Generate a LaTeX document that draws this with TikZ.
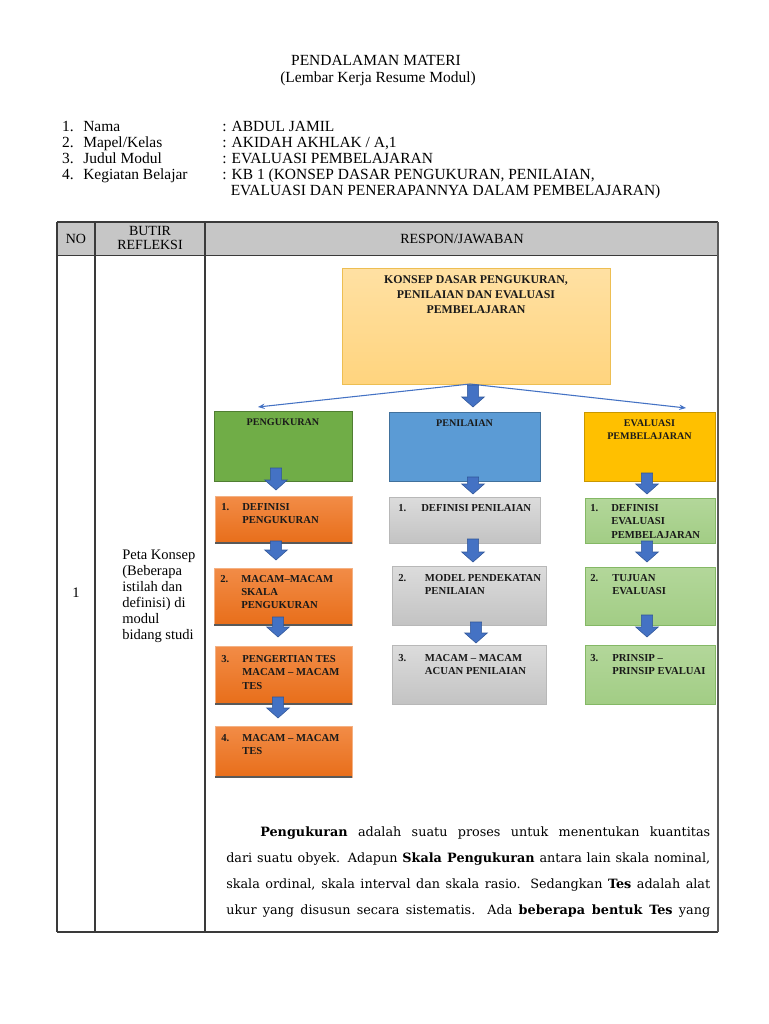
\documentclass[tikz,border=0pt]{standalone}
\usepackage{fontspec}
\setmainfont{Liberation Serif}
\newfontfamily\parafont{DejaVu Serif}
\usetikzlibrary{calc,arrows.meta}
\definecolor{arrblue}{HTML}{4472C4}
\definecolor{arrdark}{HTML}{2F5597}
\definecolor{hdrgray}{HTML}{C6C6C6}
\definecolor{tline}{HTML}{3A3A3A}
\definecolor{topfill}{HTML}{FFD98C}
\definecolor{topfillb}{HTML}{FFD47E}
\definecolor{topdraw}{HTML}{EDBE52}
\definecolor{pgreen}{HTML}{70AD47}
\definecolor{pgreend}{HTML}{507E32}
\definecolor{pblue}{HTML}{5B9BD5}
\definecolor{pblued}{HTML}{41719C}
\definecolor{pgold}{HTML}{FFC000}
\definecolor{pgoldd}{HTML}{C99700}
\definecolor{otop}{HTML}{F28C47}
\definecolor{obot}{HTML}{E86E1A}
\definecolor{odraw}{HTML}{F4B183}
\definecolor{gtop}{HTML}{DCDCDC}
\definecolor{gbot}{HTML}{C3C3C3}
\definecolor{gdraw}{HTML}{B8B8B8}
\definecolor{etop}{HTML}{B3D79A}
\definecolor{ebot}{HTML}{A2CD85}
\definecolor{edraw}{HTML}{84B865}
\definecolor{btext}{HTML}{1A1A1A}
\tikzset{
  sz/.style 2 args={minimum width=#1*0.75pt, minimum height=#2*0.75pt},
  box/.style={anchor=north west, inner sep=0pt, outer sep=0pt},
  hdr/.style={inner sep=0pt, font=\fontsize{11.6}{12}\selectfont},
  thd/.style={inner sep=0pt, font=\fontsize{10.5}{11}\selectfont},
  itext/.style={anchor=base west, inner sep=0pt, text=btext, font=\bfseries\fontsize{8}{10}\selectfont},
  htext/.style={anchor=base, inner sep=0pt, text=btext, font=\bfseries\fontsize{7.6}{9.75}\selectfont},
  para/.style={anchor=base west, inner sep=0pt, font=\parafont\fontsize{9.6}{19.5}\selectfont},
  obox/.style={box, top color=otop, bottom color=obot, draw=odraw, line width=0.4pt},
  gbox/.style={box, top color=gtop, bottom color=gbot, draw=gdraw, line width=0.5pt},
  ebox/.style={box, top color=etop, bottom color=ebot, draw=edraw, line width=0.6pt},
  barrow/.style={fill=arrblue, draw=arrdark, line width=0.4pt},
  thin arrow/.style={draw=arrblue, line width=0.8pt, -{Stealth[length=5pt,width=4pt]}}
}
\newcommand\barr[5]{%
  \path[barrow] let \p1=($(#1.south)+(#3,-#4)$), \p2=($(#2.north)+(#3,-#5)$) in
  (\x1-4.2pt,\y1) -- (\x1+4.2pt,\y1) -- (\x1+4.2pt,\y2+7.5pt) -- (\x1+8.5pt,\y2+7.5pt)
  -- (\x1,\y2) -- (\x1-8.5pt,\y2+7.5pt) -- (\x1-4.2pt,\y2+7.5pt) -- cycle;}
\newcommand\itm[3]{\begin{tabular}[t]{@{}p{#1}@{}l@{}}#2&#3\end{tabular}}
\begin{document}
\begin{tikzpicture}[x=0.75pt,y=-0.75pt]
\useasboundingbox (0,0) rectangle (768,1024);
\fill[white] (0,0) rectangle (768,1024);

% Title
\node[hdr, anchor=base] (t1) at (376,66) {PENDALAMAN MATERI};
\node[hdr, anchor=base] (t2) at (378,82.5) {(Lembar Kerja Resume Modul)};

% List
\foreach \n/\lab/\val/\yy in {1/Nama/{: ABDUL JAMIL}/131, 2/Mapel\slash Kelas/{: AKIDAH AKHLAK / A,1}/147, 3/Judul Modul/{: EVALUASI PEMBELAJARAN}/163, 4/Kegiatan Belajar/{: KB 1 (KONSEP DASAR PENGUKURAN, PENILAIAN,}/179}{
  \node[hdr, anchor=base east] (n\n) at (74,\yy) {\n.};
  \node[hdr, anchor=base west] (l\n) at (83,\yy) {\lab};
  \node[hdr, anchor=base west] (v\n) at (222,\yy) {\val};
}
\node[hdr, anchor=base west] (v5) at (230.5,195) {EVALUASI DAN PENERAPANNYA DALAM PEMBELAJARAN)};

% Table
\fill[hdrgray] (57,222) rectangle (718,255.5);
\draw[tline, line width=0.9pt] (57,222) -- (718,222);
\draw[tline, line width=0.9pt] (57,255.5) -- (718,255.5);
\draw[tline, line width=0.9pt] (57,932) -- (718,932);
\draw[tline, line width=1.1pt] (57,222) -- (57,932);
\draw[tline, line width=0.9pt] (95,222) -- (95,932);
\draw[tline, line width=0.9pt] (205,222) -- (205,932);
\draw[black!65, line width=1.5pt] (718,222) -- (718,932);

\node[thd, anchor=base] (hno) at (76,243) {NO};
\node[thd, anchor=base] (hb1) at (150,235) {BUTIR};
\node[thd, anchor=base] (hb2) at (150,249) {REFLEKSI};
\node[thd, anchor=base] (hrs) at (462,243) {RESPON/JAWABAN};

\node[inner sep=0pt, anchor=base, font=\fontsize{10.9}{12}\selectfont] (no1) at (76,597.5) {1};
\node[inner sep=0pt, anchor=base west, font=\fontsize{10.9}{12}\selectfont] (ref) at (122,559.5)
  {\begin{tabular}[t]{@{}l@{}}Peta Konsep\\(Beberapa\\istilah dan\\definisi) di\\modul\\bidang studi\end{tabular}};

% Top box
\node[box, sz={268}{116}, top color=topfill!80!white, bottom color=topfillb, draw=topdraw, line width=0.6pt] (top) at (342,268) {};
\node[anchor=base, inner sep=0pt, text=btext, font=\bfseries\fontsize{8.9}{11.25}\selectfont] (toptxt) at ($(top.north)+(0,15)$)
  {\begin{tabular}[t]{@{}c@{}}KONSEP DASAR PENGUKURAN,\\PENILAIAN DAN EVALUASI\\PEMBELAJARAN\end{tabular}};

% Category boxes
\node[box, sz={138}{70}, fill=pgreen, draw=pgreend, line width=0.6pt] (peng) at (214,411) {};
\node[htext] (pengt) at ($(peng.north)+(0,14.5)$) {PENGUKURAN};
\node[box, sz={151}{69}, fill=pblue, draw=pblued, line width=0.6pt] (pen) at (389,412) {};
\node[htext] (pent) at ($(pen.north)+(0,14.5)$) {PENILAIAN};
\node[box, sz={131}{69}, fill=pgold, draw=pgoldd, line width=0.6pt] (eval) at (584,412) {};
\node[htext] (evalt) at ($(eval.north)+(0,14.5)$) {\begin{tabular}[t]{@{}c@{}}EVALUASI\\PEMBELAJARAN\end{tabular}};

% thin arrows
\coordinate (lft) at ($(peng.north west)+(44,-4)$);
\coordinate (rgt) at ($(eval.north west)+(102,-4)$);
\draw[thin arrow] ($(top.south)+(-6,0)$) -- (lft);
\draw[thin arrow] ($(top.south)+(-6,0)$) -- (rgt);

% Column 1
\node[obox, sz={137}{47}] (o1) at (215,496) {};
\node[obox, sz={138}{57}] (o2) at (214,568) {};
\node[obox, sz={137}{58}] (o3) at (215,646) {};
\node[obox, sz={137}{51}] (o4) at (215,726) {};
\foreach \b in {o1,o2,o3,o4}{\draw[black!65, line width=1pt] (\b.south west) -- (\b.south east);}
\node[itext] (o1t) at ($(o1.north west)+(6,14.5)$) {\itm{15.75pt}{1.}{DEFINISI\\&PENGUKURAN}};
\node[itext] (o2t) at ($(o2.north west)+(6,14)$) {\itm{15.75pt}{2.}{MACAM--MACAM\\&SKALA\\&PENGUKURAN}};
\node[itext] (o3t) at ($(o3.north west)+(6,16.5)$) {\itm{15.75pt}{3.}{PENGERTIAN TES\\&MACAM -- MACAM\\&TES}};
\node[itext] (o4t) at ($(o4.north west)+(6,15.5)$) {\itm{15.75pt}{4.}{MACAM -- MACAM\\&TES}};

% Column 2
\node[gbox, sz={151}{46}] (g1) at (389,497) {};
\node[gbox, sz={154}{59}] (g2) at (392,566) {};
\node[gbox, sz={154}{59}] (g3) at (392,645) {};
\node[itext] (g1t) at ($(g1.north west)+(9,14.5)$) {\itm{17.25pt}{1.}{DEFINISI PENILAIAN}};
\node[itext] (g2t) at ($(g2.north west)+(6,15.5)$) {\itm{20pt}{2.}{MODEL PENDEKATAN\\&PENILAIAN}};
\node[itext] (g3t) at ($(g3.north west)+(6,16.5)$) {\itm{20pt}{3.}{MACAM -- MACAM\\&ACUAN PENILAIAN}};

% Column 3
\node[ebox, sz={130}{45}] (e1) at (585,498) {};
\node[ebox, sz={130}{58}] (e2) at (585,567) {};
\node[ebox, sz={130}{59}] (e3) at (585,645) {};
\node[itext] (e1t) at ($(e1.north west)+(5,13.5)$) {\itm{15.75pt}{1.}{DEFINISI\\&EVALUASI\\&PEMBELAJARAN}};
\node[itext] (e2t) at ($(e2.north west)+(5,14.5)$) {\itm{16.5pt}{2.}{TUJUAN\\&EVALUASI}};
\node[itext] (e3t) at ($(e3.north west)+(5,16.5)$) {\itm{16.5pt}{3.}{PRINSIP --\\&PRINSIP EVALUAI}};

% Block arrows
\barr{top}{pen}{-3}{-1}{5}
\barr{peng}{o1}{-7}{13}{6}
\barr{pen}{g1}{8.5}{4}{3}
\barr{eval}{e1}{-2.5}{8}{4}
\barr{o1}{o2}{-7.5}{2}{8}
\barr{o2}{o3}{-5}{8}{9}
\barr{o3}{o4}{-5.5}{7}{8}
\barr{g1}{g2}{8.5}{4}{4}
\barr{g2}{g3}{7}{3}{2}
\barr{e1}{e2}{-3}{2}{5}
\barr{e2}{e3}{-3}{10}{8}

% Paragraph
\node[para] (p1) at (260,836) {\makebox[337.5pt][s]{\textbf{Pengukuran} adalah suatu proses untuk menentukan kuantitas}};
\node[para] (p2) at (226,862) {\makebox[363pt][s]{dari suatu obyek. Adapun \textbf{Skala Pengukuran} antara lain skala nominal,}};
\node[para] (p3) at (226,888) {\makebox[363pt][s]{skala ordinal, skala interval dan skala rasio. Sedangkan \textbf{Tes} adalah alat}};
\node[para] (p4) at (226,914.5) {\makebox[363pt][s]{ukur yang disusun secara sistematis. Ada \textbf{beberapa bentuk Tes} yang}};
\end{tikzpicture}
\end{document}
